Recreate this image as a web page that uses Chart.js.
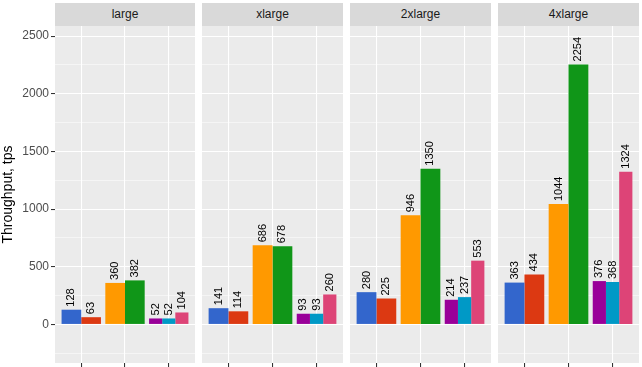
<!DOCTYPE html>
<html>
<head>
<meta charset="utf-8">
<script src="https://cdn.jsdelivr.net/npm/chart.js@4/dist/chart.umd.min.js"></script>
<style>
  html, body { margin: 0; padding: 0; background: #ffffff; }
  body { width: 642px; height: 367px; position: relative; overflow: hidden; font-family: "Liberation Sans", Arial, sans-serif; }
  .strip { position: absolute; top: 3px; height: 23px; line-height: 23px; background: #D9D9D9; color: #1A1A1A; font-size: 12px; text-align: center; }
  canvas { position: absolute; top: 26px; }
</style>
</head>
<body>
<script>
// panels (facets) and the three bar groups inside each panel
const panels = ["large", "xlarge", "2xlarge", "4xlarge"];
const groups = [1, 2, 3];

// one array per bar colour, one value per panel
const seriesBlue   = [128, 141, 280, 363];
const seriesRed    = [63, 114, 225, 434];
const seriesOrange = [360, 686, 946, 1044];
const seriesGreen  = [382, 678, 1350, 2254];
const seriesPurple = [52, 93, 214, 376];
const seriesTeal   = [52, 93, 237, 368];
const seriesPink   = [104, 260, 553, 1324];

// group each series sits in
const seriesGroup = [1, 1, 2, 2, 3, 3, 3];
const seriesColors = ["#3366CC", "#DC3912", "#FF9900", "#109618", "#990099", "#0099C6", "#DD4477"];
const allSeries = [seriesBlue, seriesRed, seriesOrange, seriesGreen, seriesPurple, seriesTeal, seriesPink];

const yTickLabels = [0, 500, 1000, 1500, 2000, 2500];
const yTitle = "Throughput, tps";

// layout
const panelLeft = [55, 202, 350, 498];
const panelWidth = [140, 141, 141, 141];
const yAxisWidth = 55;
const canvasHeight = 341;

// white grid: majors on the labelled ticks, minors halfway between
const yGrid = [yTickLabels[0] - 250];
yTickLabels.forEach(function (v, i) {
    yGrid.push(v);
    if (i < yTickLabels.length - 1) yGrid.push((v + yTickLabels[i + 1]) / 2);
});
function isMajor(v) { return yTickLabels.indexOf(v) !== -1; }

// grey panel background behind the grid
const panelBg = {
    id: "panelBg",
    beforeDraw(chart) {
        const a = chart.chartArea;
        const ctx = chart.ctx;
        ctx.save();
        ctx.fillStyle = "#EBEBEB";
        ctx.fillRect(a.left, a.top, a.right - a.left, a.bottom - a.top);
        ctx.restore();
    }
};

// rotated value labels above every bar
const barLabels = {
    id: "barLabels",
    afterDatasetsDraw(chart) {
        const ctx = chart.ctx;
        ctx.save();
        ctx.font = "11px 'Liberation Sans', Arial, sans-serif";
        ctx.fillStyle = "#000000";
        ctx.textAlign = "left";
        ctx.textBaseline = "middle";
        chart.data.datasets.forEach(function (ds, i) {
            const meta = chart.getDatasetMeta(i);
            meta.data.forEach(function (bar, j) {
                const v = ds.data[j].y;
                if (v === null) return;
                ctx.save();
                ctx.translate(bar.x, bar.y - 3);
                ctx.rotate(-Math.PI / 2);
                ctx.fillText(String(v), 0, 0);
                ctx.restore();
            });
        });
        ctx.restore();
    }
};

function makePanel(p) {
    const first = p === 0;
    const left = first ? 0 : panelLeft[p];
    const width = first ? panelLeft[0] + panelWidth[0] : panelWidth[p];

    const strip = document.createElement("div");
    strip.className = "strip";
    strip.style.left = panelLeft[p] + "px";
    strip.style.width = panelWidth[p] + "px";
    strip.textContent = panels[p];
    document.body.appendChild(strip);

    const canvas = document.createElement("canvas");
    canvas.width = width;
    canvas.height = canvasHeight;
    canvas.style.left = left + "px";
    canvas.style.width = width + "px";
    canvas.style.height = canvasHeight + "px";
    document.body.appendChild(canvas);

    const datasets = allSeries.map(function (vals, s) {
        return {
            data: groups.map(function (g) {
                return { x: g, y: seriesGroup[s] === g ? vals[p] : null };
            }),
            backgroundColor: seriesColors[s],
            borderWidth: 0,
            categoryPercentage: 0.9,
            barPercentage: 1,
            skipNull: true
        };
    });

    new Chart(canvas, {
        type: "bar",
        data: { datasets: datasets },
        plugins: [panelBg, barLabels],
        options: {
            responsive: false,
            animation: false,
            devicePixelRatio: 1,
            layout: { padding: 0 },
            plugins: { legend: { display: false }, tooltip: { enabled: false } },
            scales: {
                x: {
                    type: "linear",
                    min: 0.4,
                    max: 3.6,
                    offset: false,
                    afterBuildTicks: function (s) { s.ticks = groups.map(function (g) { return { value: g }; }); },
                    ticks: { display: false },
                    grid: { offset: false, color: "#FFFFFF", lineWidth: 1.07, tickColor: "#333333", tickLength: 4, tickWidth: 1.07 },
                    border: { display: false },
                    afterFit: function (s) { s.height = 4; s.paddingLeft = 0; s.paddingRight = 0; }
                },
                y: {
                    type: "linear",
                    min: -334,
                    max: 2587,
                    afterBuildTicks: function (s) { s.ticks = yGrid.map(function (v) { return { value: v }; }); },
                    ticks: {
                        display: first,
                        color: "#4D4D4D",
                        padding: 2,
                        font: { family: "'Liberation Sans', Arial, sans-serif", size: 12 },
                        callback: function (v) { return isMajor(v) ? String(v) : ""; }
                    },
                    grid: {
                        color: "#FFFFFF",
                        lineWidth: function (c) { return c.tick && isMajor(c.tick.value) ? 1.07 : 0.53; },
                        drawTicks: first,
                        tickLength: 4,
                        tickWidth: 1.07,
                        tickColor: function (c) { return c.tick && isMajor(c.tick.value) ? "#333333" : "rgba(0,0,0,0)"; }
                    },
                    border: { display: false },
                    title: {
                        display: first,
                        text: yTitle,
                        color: "#000000",
                        padding: 0,
                        font: { family: "'Liberation Sans', Arial, sans-serif", size: 14 }
                    },
                    afterFit: function (s) { s.width = first ? yAxisWidth : 0; s.paddingTop = 0; s.paddingBottom = 0; }
                }
            }
        }
    });
}

panels.forEach(function (name, p) { makePanel(p); });
</script>
</body>
</html>
